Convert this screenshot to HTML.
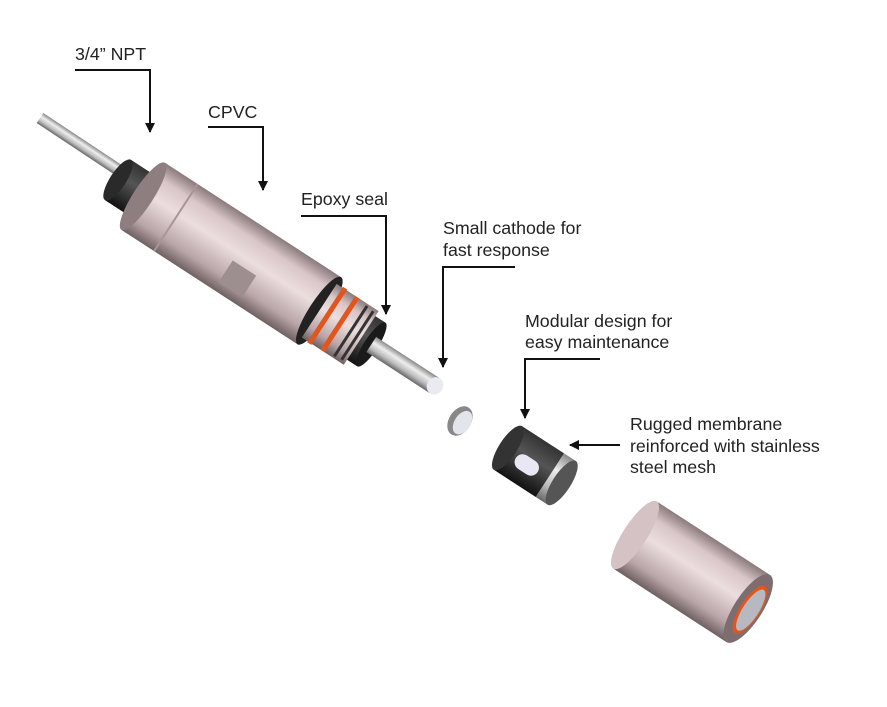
<!DOCTYPE html>
<html><head><meta charset="utf-8"><style>
html,body{margin:0;padding:0;background:#fff;}
svg{display:block}
text{font-family:"Liberation Sans",sans-serif;font-size:17.8px;fill:#222}
</style></head><body>
<svg width="887" height="707" viewBox="0 0 887 707">
<defs>
<linearGradient id="pink" x1="0" y1="0" x2="0" y2="1">
<stop offset="0" stop-color="#8a7a7c"/><stop offset="0.2" stop-color="#d9c6c8"/><stop offset="0.45" stop-color="#ecdede"/><stop offset="0.8" stop-color="#b9a5a7"/><stop offset="1" stop-color="#6e6062"/></linearGradient>
<linearGradient id="steel" x1="0" y1="0" x2="0" y2="1">
<stop offset="0" stop-color="#888"/><stop offset="0.35" stop-color="#eee"/><stop offset="0.7" stop-color="#bbb"/><stop offset="1" stop-color="#666"/></linearGradient>
<linearGradient id="blk" x1="0" y1="0" x2="0" y2="1">
<stop offset="0" stop-color="#333"/><stop offset="0.4" stop-color="#555"/><stop offset="1" stop-color="#111"/></linearGradient>
<marker id="ar" markerWidth="10" markerHeight="10" refX="9" refY="5" orient="auto" markerUnits="userSpaceOnUse"><path d="M0,0 L10,5 L0,10 Z" fill="#111"/></marker>
</defs>

<g transform="translate(40,118) rotate(33.5)">
<rect x="0" y="-6" width="100" height="12" fill="url(#steel)"/>
</g>
<g transform="translate(118,180) rotate(33)">
<rect x="0" y="-24" width="30" height="48" fill="url(#blk)"/>
<ellipse cx="0" cy="0" rx="8" ry="24" fill="#2a2a2a"/>
<rect x="30" y="-40" width="210" height="80" fill="url(#pink)"/>
<ellipse cx="30" cy="0" rx="10" ry="40" fill="#8e7e80"/>
<rect x="68" y="-40" width="2" height="80" fill="#a99597"/>
<rect x="140" y="5" width="28" height="26" fill="#9d8e90"/>
<ellipse cx="240" cy="0" rx="10" ry="40" fill="#222"/>
<rect x="240" y="-32" width="50" height="64" fill="url(#pink)"/>
<rect x="247" y="-33" width="5" height="66" fill="#e0561e"/>
<rect x="262" y="-32" width="5" height="64" fill="#e0561e"/>
<rect x="276" y="-30" width="3" height="60" fill="#333"/>
<rect x="284" y="-29" width="3" height="58" fill="#333"/>
<rect x="290" y="-26" width="12" height="52" fill="url(#blk)"/>
<ellipse cx="302" cy="0" rx="7" ry="26" fill="#1a1a1a"/>
<rect x="302" y="-9" width="75" height="18" fill="url(#steel)"/>
<ellipse cx="378" cy="0" rx="8" ry="9" fill="#eaeaf2"/>
</g>
<g transform="translate(460,421) rotate(33)">
<ellipse cx="0" cy="0" rx="11" ry="16" fill="#888"/>
<ellipse cx="3" cy="0" rx="8" ry="13" fill="#e4e4ec"/>
</g>
<g transform="translate(508,448) rotate(33)">
<rect x="0" y="-26" width="50" height="52" fill="url(#blk)"/>
<ellipse cx="0" cy="0" rx="9" ry="26" fill="#333"/>
<rect x="12" y="-4" width="26" height="16" rx="8" fill="#e8e8f4"/>
<rect x="50" y="-26" width="14" height="52" fill="url(#steel)"/>
<ellipse cx="64" cy="0" rx="9" ry="26" fill="#555"/>
</g>
<g transform="translate(635,535) rotate(33)">
<rect x="0" y="-40" width="135" height="80" fill="url(#pink)"/>
<ellipse cx="0" cy="0" rx="12" ry="40" fill="#d5c2c4"/>
<ellipse cx="135" cy="0" rx="14" ry="40" fill="#7d6d6f"/>
<ellipse cx="137" cy="0" rx="10" ry="28" fill="#e0561e"/>
<ellipse cx="138" cy="0" rx="8" ry="24" fill="#b8b8c0"/>
</g>

<text x="75" y="60">3/4” NPT</text>
<polyline points="75,70 150,70 150,132" fill="none" stroke="#111" stroke-width="2" marker-end="url(#ar)"/>
<text x="208" y="118">CPVC</text>
<polyline points="208,127 263,127 263,190" fill="none" stroke="#111" stroke-width="2" marker-end="url(#ar)"/>
<text x="301" y="205">Epoxy seal</text>
<polyline points="301,216 386,216 386,314" fill="none" stroke="#111" stroke-width="2" marker-end="url(#ar)"/>
<text x="443" y="234">Small cathode for</text>
<text x="443" y="256">fast response</text>
<polyline points="515,267 443,267 443,367" fill="none" stroke="#111" stroke-width="2" marker-end="url(#ar)"/>
<text x="525" y="327">Modular design for</text>
<text x="525" y="348">easy maintenance</text>
<polyline points="600,359 525,359 525,418" fill="none" stroke="#111" stroke-width="2" marker-end="url(#ar)"/>
<text x="630" y="430">Rugged membrane</text>
<text x="630" y="452">reinforced with stainless</text>
<text x="630" y="473">steel mesh</text>
<line x1="620" y1="445" x2="570" y2="445" stroke="#111" stroke-width="2" marker-end="url(#ar)"/>
</svg>
</body></html>
